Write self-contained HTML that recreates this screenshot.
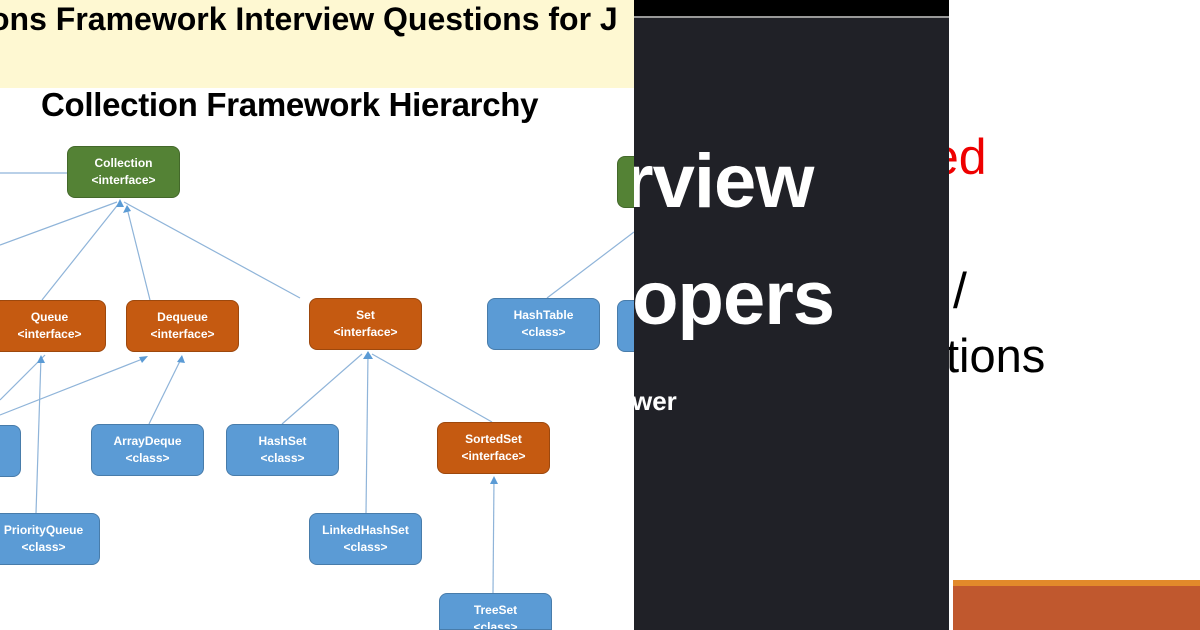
<!DOCTYPE html>
<html style="overflow:hidden;height:630px"><head><meta charset="utf-8"><style>
body{margin:0;width:1200px;height:630px;overflow:hidden;position:relative;background:#fff;font-family:"Liberation Sans",sans-serif}
.a{position:absolute}
.n{position:absolute;width:113px;height:52px;border-radius:8px;color:#fff;font-size:12px;font-weight:bold;text-align:center;line-height:17px;display:flex;flex-direction:column;justify-content:center;box-sizing:border-box;border:1px solid rgba(0,0,0,.2)}
.g{background:#548235}.o{background:#c55a11}.b{background:#5b9bd5}
</style></head><body>
<div class="a" style="left:0;top:0;width:634px;height:88px;background:#fef8d2"></div>
<div class="a" style="left:-10px;top:1px;font-size:32px;font-weight:bold;white-space:nowrap;color:#000">ons Framework Interview Questions for J</div>
<div class="a" style="left:41px;top:86px;font-size:33px;font-weight:bold;white-space:nowrap;color:#000;letter-spacing:-0.3px">Collection Framework Hierarchy</div>
<svg class="a" style="left:0;top:0" width="634" height="630">
<g stroke="#8fb4d9" stroke-width="1.2" fill="none">
<line x1="0" y1="173" x2="67" y2="173"/>
<line x1="0" y1="245" x2="117" y2="202"/>
<line x1="42" y1="300" x2="120" y2="202"/>
<line x1="150" y1="300" x2="127" y2="208"/>
<line x1="300" y1="298" x2="124" y2="202"/>
<line x1="0" y1="400" x2="45" y2="355"/>
<line x1="0" y1="415" x2="145" y2="358"/>
<line x1="36" y1="513" x2="41" y2="357"/>
<line x1="149" y1="424" x2="182" y2="357"/>
<line x1="282" y1="424" x2="362" y2="354"/>
<line x1="366" y1="513" x2="368" y2="354"/>
<line x1="492" y1="422" x2="372" y2="354"/>
<line x1="493" y1="593" x2="494" y2="478"/>
<line x1="547" y1="298" x2="634" y2="232"/>
</g>
<g fill="#5b9bd5">
<polygon points="120,199 116,207 124,207"/><polygon points="127,205 123,213 131,211"/>
<polygon points="41,355 37,363 45,363"/><polygon points="182,355 177,362 185,363"/>
<polygon points="148,356 139,357 142,363"/><polygon points="368,351 363,359 373,359"/>
<polygon points="494,476 490,484 498,484"/>
</g>
</svg>
<div class="n g" style="left:67px;top:146px"><span>Collection</span><span>&lt;interface&gt;</span></div>
<div class="n o" style="left:-7px;top:300px"><span>Queue</span><span>&lt;interface&gt;</span></div>
<div class="n o" style="left:126px;top:300px"><span>Dequeue</span><span>&lt;interface&gt;</span></div>
<div class="n o" style="left:309px;top:298px"><span>Set</span><span>&lt;interface&gt;</span></div>
<div class="n b" style="left:487px;top:298px"><span>HashTable</span><span>&lt;class&gt;</span></div>
<div class="n g" style="left:617px;top:156px"></div>
<div class="n b" style="left:617px;top:300px"></div>
<div class="n b" style="left:-92px;top:425px"></div>
<div class="n b" style="left:91px;top:424px"><span>ArrayDeque</span><span>&lt;class&gt;</span></div>
<div class="n b" style="left:226px;top:424px"><span>HashSet</span><span>&lt;class&gt;</span></div>
<div class="n o" style="left:437px;top:422px"><span>SortedSet</span><span>&lt;interface&gt;</span></div>
<div class="n b" style="left:-13px;top:513px"><span>PriorityQueue</span><span>&lt;class&gt;</span></div>
<div class="n b" style="left:309px;top:513px"><span>LinkedHashSet</span><span>&lt;class&gt;</span></div>
<div class="n b" style="left:439px;top:593px;height:37px;border-radius:8px 8px 0 0;justify-content:flex-start;padding-top:8px;overflow:hidden"><span>TreeSet</span><span>&lt;class&gt;</span></div>

<div class="a" style="left:634px;top:0;width:315px;height:630px;background:#202127;overflow:hidden">
<div class="a" style="left:0;top:0;width:315px;height:16px;background:#000"></div>
<div class="a" style="left:0;top:16px;width:315px;height:2px;background:#999"></div>
<div class="a" style="left:-10px;top:138px;font-size:76px;font-weight:bold;color:#fff;white-space:nowrap;letter-spacing:-1px">rview</div>
<div class="a" style="left:-22px;top:255px;font-size:76px;font-weight:bold;color:#fff;white-space:nowrap;letter-spacing:-1px">lopers</div>
<div class="a" style="left:-2px;top:386px;font-size:26px;font-weight:bold;color:#fff;white-space:nowrap">wer</div>
</div>

<div class="a" style="left:949px;top:0;width:251px;height:630px;background:#fff;overflow:hidden">
<div class="a" style="left:-18px;top:128px;font-size:50px;color:#e00;white-space:nowrap">ed</div>
<div class="a" style="left:4px;top:262px;font-size:50px;color:#000;white-space:nowrap">/</div>
<div class="a" style="left:-3px;top:328px;font-size:47px;color:#000;white-space:nowrap">tions</div>
<div class="a" style="left:4px;top:580px;width:251px;height:6px;background:#e2892a"></div>
<div class="a" style="left:4px;top:586px;width:251px;height:44px;background:#c0582e"></div>
</div>
</body></html>
